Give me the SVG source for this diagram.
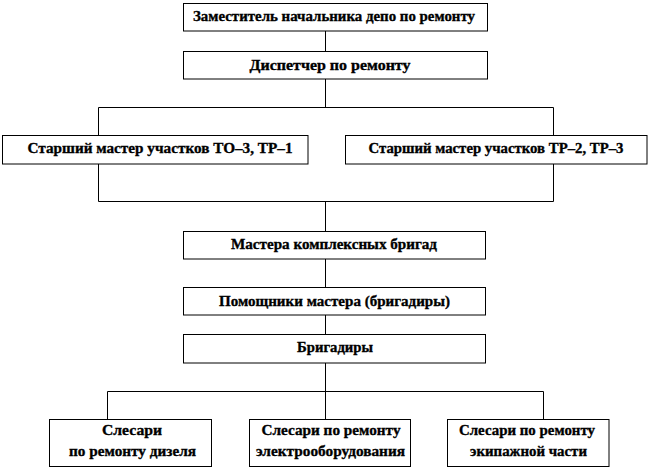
<svg xmlns="http://www.w3.org/2000/svg" width="650" height="470" viewBox="0 0 650 470">
<style>
.box{fill:#fff;stroke:#000;stroke-width:1}
.lbl{font-family:"Liberation Serif","DejaVu Serif",serif;font-weight:bold;font-size:15px;fill:#000;stroke:#000;stroke-width:0.35;text-anchor:middle}
.con{fill:none;stroke:#000;stroke-width:1}
</style>
<rect width="650" height="470" fill="#fff"/>
<g id="connectors">
<path class="con" d="M325.5 31V51M325.5 79V107.5M98.5 107.5H553.5M98.5 107.5V135.5M553.5 107.5V135.5M98.5 164V201.5M553.5 164V201.5M98.5 201.5H553.5M325.5 201.5V231M325.5 259V287M325.5 315V334M325.5 363V391.5M107.5 391.5H543.5M107.5 391.5V419M325.5 391.5V419M543.5 391.5V419"/>
</g>
<g id="n1"><rect class="box" x="183.5" y="3.5" width="304" height="27.5"/><text class="lbl" x="334" y="21" textLength="282" lengthAdjust="spacingAndGlyphs">Заместитель начальника депо по ремонту</text></g>
<g id="n2"><rect class="box" x="183.5" y="51.5" width="304" height="27.5"/><text class="lbl" x="330" y="69.5" textLength="161" lengthAdjust="spacingAndGlyphs">Диспетчер по ремонту</text></g>
<g id="n3"><rect class="box" x="2.5" y="135.5" width="305.5" height="28.5"/><text class="lbl" x="160" y="152.5" textLength="265" lengthAdjust="spacingAndGlyphs">Старший мастер участков  ТО–3, ТР–1</text></g>
<g id="n4"><rect class="box" x="345.5" y="135.5" width="301.5" height="28.5"/><text class="lbl" x="496" y="152.5" textLength="255" lengthAdjust="spacingAndGlyphs">Старший мастер участков  ТР–2, ТР–3</text></g>
<g id="n5"><rect class="box" x="183.5" y="231.5" width="302" height="27.5"/><text class="lbl" x="334" y="249" textLength="206" lengthAdjust="spacingAndGlyphs">Мастера комплексных бригад</text></g>
<g id="n6"><rect class="box" x="183.5" y="287.5" width="302" height="27.5"/><text class="lbl" x="334.5" y="306" textLength="231" lengthAdjust="spacingAndGlyphs">Помощники мастера (бригадиры)</text></g>
<g id="n7"><rect class="box" x="183.5" y="334.5" width="302" height="28.5"/><text class="lbl" x="335" y="352" textLength="76" lengthAdjust="spacingAndGlyphs">Бригадиры</text></g>
<g id="n8"><rect class="box" x="49.5" y="419.5" width="162" height="47"/><text class="lbl" x="132" y="434.5" textLength="60" lengthAdjust="spacingAndGlyphs">Слесари</text><text class="lbl" x="132.5" y="456" textLength="127" lengthAdjust="spacingAndGlyphs">по ремонту дизеля</text></g>
<g id="n9"><rect class="box" x="249.5" y="419.5" width="161" height="47"/><text class="lbl" x="331" y="434.5" textLength="139" lengthAdjust="spacingAndGlyphs">Слесари по ремонту</text><text class="lbl" x="330.5" y="456" textLength="149" lengthAdjust="spacingAndGlyphs">электрооборудования</text></g>
<g id="n10"><rect class="box" x="447.5" y="419.5" width="161.5" height="47"/><text class="lbl" x="527" y="434.5" textLength="136" lengthAdjust="spacingAndGlyphs">Слесари по ремонту</text><text class="lbl" x="528.5" y="456" textLength="117" lengthAdjust="spacingAndGlyphs">экипажной части</text></g>
</svg>
